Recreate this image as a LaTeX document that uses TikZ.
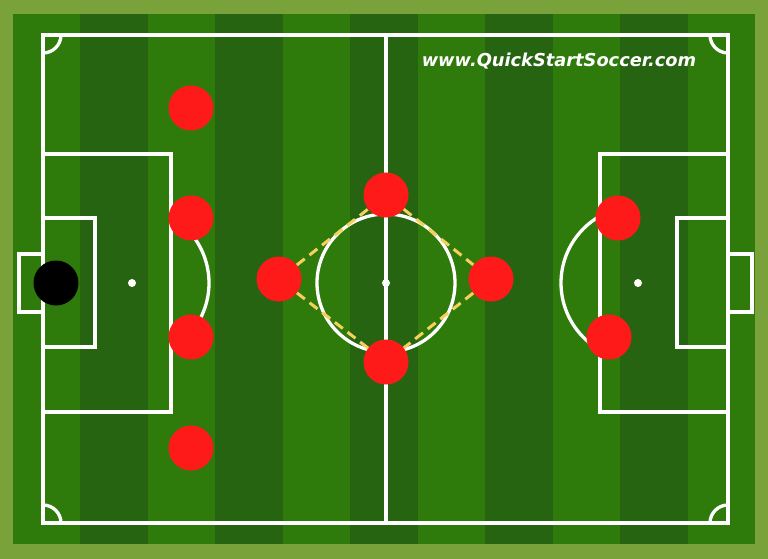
\documentclass[tikz,border=0pt]{standalone}
\usepackage{fontspec}
\newfontfamily\sitefont{DejaVu Sans}
\definecolor{pitchedge}{RGB}{122,162,58}
\definecolor{grasslight}{RGB}{46,123,12}
\definecolor{grassdark}{RGB}{38,100,17}
\definecolor{plred}{RGB}{255,26,26}
\definecolor{linkyellow}{RGB}{246,208,92}

\tikzset{
  mark line/.style = {draw=white, line width=3.3},
  player/.style = {circle, fill=plred, minimum size=45, inner sep=0},
  keeper/.style = {player, fill=black},
  spot/.style = {circle, fill=white, minimum size=8, inner sep=0},
  link/.style = {draw=linkyellow, line width=3, dash pattern=on 10 off 6},
}

\begin{document}
\begin{tikzpicture}[x=1pt, y=-1pt]
    \useasboundingbox (0,0) rectangle (768,559);
    \fill[pitchedge] (0,0) rectangle (768,559);
    \fill[grasslight] (13,14) rectangle (755,544);
    \foreach \i in {1,3,...,9}
      \fill[grassdark] ({13+67.45*\i},14) rectangle ({13+67.45*(\i+1)},544);

    \draw[mark line] (43,35) rectangle (728,523);
    \draw[mark line] (386,35) -- (386,523);
    \draw[mark line] (386,283) circle[radius=69];

    \draw[mark line] (43,154) rectangle (171,412);
    \draw[mark line] (43,218) rectangle (95,347);
    \draw[mark line] (43,254) -- (19,254) -- (19,312) -- (43,312);
    \draw[mark line] ([shift={(-59.6:77)}]132,283) arc[start angle=-59.6, end angle=59.6, radius=77];

    \draw[mark line] (728,154) rectangle (600,412);
    \draw[mark line] (728,218) rectangle (677,347);
    \draw[mark line] (728,254) -- (752,254) -- (752,312) -- (728,312);
    \draw[mark line] ([shift={(119.6:77)}]638,283) arc[start angle=119.6, end angle=240.4, radius=77];

    \draw[mark line] (61,35) arc[start angle=0, end angle=90, radius=18];
    \draw[mark line] (710,35) arc[start angle=180, end angle=90, radius=18];
    \draw[mark line] (61,523) arc[start angle=0, end angle=-90, radius=18];
    \draw[mark line] (710,523) arc[start angle=180, end angle=270, radius=18];

    \node[spot] (lspot) at (132,283) {};
    \node[spot] (cspot) at (386,283) {};
    \node[spot] (rspot) at (638,283) {};

    \node[text=white, font=\sitefont\bfseries\itshape\fontsize{17.8}{20}\selectfont] (site) at (559,61) {www.QuickStartSoccer.com};

    \node[keeper] (gk) at (56,283) {};
    \node[player] (d1) at (191,108) {};
    \node[player] (d2) at (191,218) {};
    \node[player] (d3) at (191,337) {};
    \node[player] (d4) at (191,448) {};

    \node[player] (mtop) at (386,195) {};
    \node[player] (mleft) at (279,279) {};
    \node[player] (mright) at (491,279) {};
    \node[player] (mbot) at (386,362) {};

    \node[player] (f1) at (618,218) {};
    \node[player] (f2) at (609,337) {};

    \draw[link] (mleft) -- (mtop) -- (mright) -- (mbot) -- (mleft);
\end{tikzpicture}
\end{document}
